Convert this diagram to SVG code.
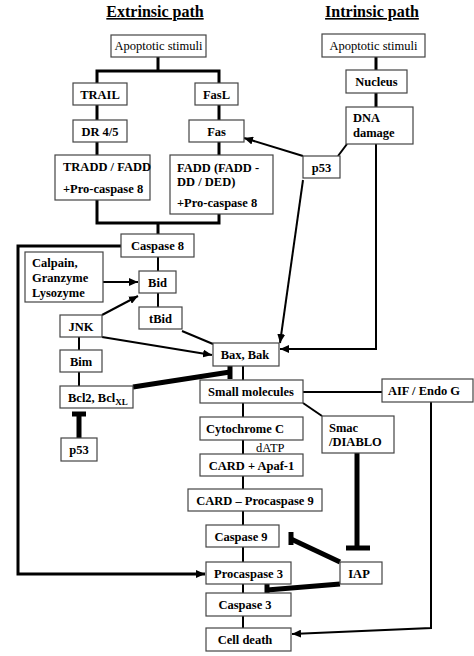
<svg xmlns="http://www.w3.org/2000/svg" width="474" height="656" viewBox="0 0 474 656">
<style>
.b{fill:#fff;stroke:#444;stroke-width:1.2}
.t{font-family:"Liberation Serif","Times New Roman",serif;font-size:12.5px;font-weight:bold;fill:#000}
.r{font-weight:normal}
.c{text-anchor:middle}
.h{font-family:"Liberation Serif","Times New Roman",serif;font-size:16px;font-weight:bold;text-anchor:middle;text-decoration:underline}
.l{fill:none;stroke:#000;stroke-width:2}
.k{stroke-width:3}
.inh{fill:none;stroke:#000;stroke-width:5}
</style>
<defs>
<marker id="a" markerUnits="userSpaceOnUse" markerWidth="9" markerHeight="8" refX="9" refY="4" orient="auto">
<path d="M0,0 L9,4 L0,8 z" fill="#000"/>
</marker>
</defs>
<rect width="474" height="656" fill="#fff"/>
<text class="h" x="155" y="17">Extrinsic path</text>
<text class="h" x="372" y="17">Intrinsic path</text>

<g id="connectors">
<polyline class="l k" points="158,57 158,71"/>
<polyline class="l k" points="97,83 97,71 219,71 219,83"/>
<line class="l k" x1="97" y1="105" x2="97" y2="120"/>
<line class="l k" x1="219" y1="105" x2="219" y2="120"/>
<line class="l k" x1="97" y1="142" x2="97" y2="155"/>
<line class="l k" x1="219" y1="142" x2="219" y2="155"/>
<polyline class="l k" points="97,200 97,223 219,223 219,214"/>
<line class="l k" x1="158" y1="223" x2="158" y2="234"/>
<polyline class="l k" points="121,246 18,246 18,574 205,574" marker-end="url(#a)"/>
<line class="l" x1="158" y1="257" x2="158" y2="271"/>
<line class="l" x1="158" y1="293" x2="158" y2="307"/>
<line class="l" x1="103" y1="282" x2="138" y2="282" marker-end="url(#a)"/>
<line class="l" x1="102" y1="315" x2="138" y2="296" marker-end="url(#a)"/>
<line class="l" x1="102" y1="337" x2="212" y2="355" marker-end="url(#a)"/>
<line class="l" x1="182" y1="331" x2="213" y2="344"/>
<line class="l" x1="79" y1="337" x2="79" y2="350"/>
<line class="l" x1="79" y1="372" x2="79" y2="386"/>
<line class="inh" x1="133" y1="387" x2="230" y2="372"/>
<line class="inh" x1="230" y1="366" x2="230" y2="379"/>
<line class="inh" x1="79" y1="438" x2="79" y2="414"/>
<line class="inh" x1="72" y1="414" x2="86" y2="414"/>
<line class="l" x1="303" y1="180" x2="280" y2="343" marker-end="url(#a)"/>
<line class="l" x1="303" y1="156" x2="244" y2="138" marker-end="url(#a)"/>
<line class="l" x1="347" y1="144" x2="338" y2="156"/>
<line class="l k" x1="376" y1="57" x2="376" y2="70"/>
<line class="l k" x1="376" y1="93" x2="376" y2="107"/>
<polyline class="l" points="376,144 376,349 280,349" marker-end="url(#a)"/>
<line class="l" x1="243" y1="366" x2="243" y2="380"/>
<line class="l" x1="303" y1="392" x2="382" y2="392"/>
<line class="l" x1="303" y1="403" x2="322" y2="416"/>
<line class="l" x1="243" y1="403" x2="243" y2="417"/>
<line class="l" x1="243" y1="440" x2="243" y2="454"/>
<line class="l" x1="243" y1="476" x2="243" y2="489"/>
<line class="l" x1="243" y1="511" x2="243" y2="525"/>
<line class="l" x1="243" y1="547" x2="243" y2="562"/>
<line class="l" x1="243" y1="584" x2="243" y2="593"/>
<line class="l" x1="243" y1="616" x2="243" y2="628"/>
<polyline class="l" points="431,402 431,628 292,634" marker-end="url(#a)"/>
<line class="inh" x1="357" y1="453" x2="357" y2="548"/>
<line class="inh" x1="346" y1="548" x2="370" y2="548"/>
<line class="inh" x1="340" y1="562" x2="291" y2="539"/>
<line class="inh" x1="291" y1="532" x2="291" y2="545"/>
<line class="inh" x1="340" y1="584" x2="267" y2="590"/>
<line class="inh" x1="267" y1="584" x2="267" y2="596"/>
</g>

<g id="stimL"><rect class="b" x="111" y="35" width="95" height="22"/><text class="t r c" x="158.5" y="50">Apoptotic stimuli</text></g>
<g id="trail"><rect class="b" x="73" y="83" width="54" height="22"/><text class="t c" x="100" y="99">TRAIL</text></g>
<g id="fasl"><rect class="b" x="195" y="83" width="43" height="22"/><text class="t c" x="216.5" y="99">FasL</text></g>
<g id="dr45"><rect class="b" x="73" y="120" width="54" height="22"/><text class="t c" x="100" y="136">DR 4/5</text></g>
<g id="fas"><rect class="b" x="189" y="120" width="55" height="22"/><text class="t c" x="216.5" y="136">Fas</text></g>
<g id="tradd"><rect class="b" x="55" y="155" width="95" height="45"/><text class="t" x="63" y="171">TRADD / FADD</text><text class="t" x="63" y="193">+Pro-caspase 8</text></g>
<g id="fadd"><rect class="b" x="170" y="155" width="103" height="59"/><text class="t" x="177" y="172">FADD (FADD -</text><text class="t" x="177" y="186">DD / DED)</text><text class="t" x="177" y="207">+Pro-caspase 8</text></g>
<g id="caspase8"><rect class="b" x="121" y="234" width="73" height="23"/><text class="t c" x="157.5" y="250">Caspase 8</text></g>
<g id="calpain"><rect class="b" x="25" y="252" width="78" height="50"/><text class="t" x="32" y="267">Calpain,</text><text class="t" x="32" y="282">Granzyme</text><text class="t" x="32" y="297">Lysozyme</text></g>
<g id="bid"><rect class="b" x="139" y="271" width="37" height="22"/><text class="t c" x="157.5" y="287">Bid</text></g>
<g id="tbid"><rect class="b" x="139" y="307" width="43" height="22"/><text class="t c" x="160.5" y="323">tBid</text></g>
<g id="jnk"><rect class="b" x="60" y="315" width="42" height="22"/><text class="t c" x="81" y="331">JNK</text></g>
<g id="bim"><rect class="b" x="60" y="350" width="42" height="22"/><text class="t c" x="81" y="366">Bim</text></g>
<g id="bcl2"><rect class="b" x="60" y="386" width="73" height="22"/><text class="t" x="68" y="402">Bcl2, Bcl<tspan font-size="9" dy="3">XL</tspan></text></g>
<g id="p53low"><rect class="b" x="61" y="438" width="36" height="23"/><text class="t c" x="79" y="454">p53</text></g>
<g id="stimR"><rect class="b" x="322" y="34" width="103" height="23"/><text class="t r c" x="373.5" y="50">Apoptotic stimuli</text></g>
<g id="nucleus"><rect class="b" x="346" y="70" width="61" height="23"/><text class="t c" x="376.5" y="86">Nucleus</text></g>
<g id="dna"><rect class="b" x="346" y="107" width="67" height="37"/><text class="t" x="353" y="122">DNA</text><text class="t" x="353" y="137">damage</text></g>
<g id="p53up"><rect class="b" x="303" y="156" width="37" height="22"/><text class="t c" x="321.5" y="172">p53</text></g>
<g id="baxbak"><rect class="b" x="213" y="343" width="66" height="23"/><text class="t c" x="245" y="359">Bax, Bak</text></g>
<g id="small"><rect class="b" x="200" y="380" width="103" height="23"/><text class="t c" x="251" y="396">Small molecules</text></g>
<g id="aif"><rect class="b" x="382" y="379" width="91" height="23"/><text class="t c" x="424" y="395">AIF / Endo G</text></g>
<g id="smac"><rect class="b" x="322" y="416" width="72" height="37"/><text class="t" x="329" y="432">Smac</text><text class="t" x="329" y="446">/DIABLO</text></g>
<g id="cytc"><rect class="b" x="200" y="417" width="103" height="23"/><text class="t c" x="245" y="433">Cytochrome C</text></g>
<text class="t r" x="256" y="452" font-size="14">dATP</text>
<g id="card"><rect class="b" x="200" y="454" width="103" height="22"/><text class="t c" x="251.5" y="470">CARD + Apaf-1</text></g>
<g id="cardp9"><rect class="b" x="188" y="489" width="134" height="22"/><text class="t c" x="255" y="505">CARD – Procaspase 9</text></g>
<g id="caspase9"><rect class="b" x="206" y="525" width="73" height="22"/><text class="t c" x="241" y="541">Caspase 9</text></g>
<g id="procasp3"><rect class="b" x="206" y="562" width="85" height="22"/><text class="t c" x="248.5" y="578">Procaspase 3</text></g>
<g id="caspase3"><rect class="b" x="206" y="593" width="85" height="23"/><text class="t c" x="245" y="609">Caspase 3</text></g>
<g id="celldeath"><rect class="b" x="206" y="628" width="85" height="23"/><text class="t c" x="245" y="644">Cell death</text></g>
<g id="iap"><rect class="b" x="340" y="562" width="42" height="22"/><text class="t c" x="359" y="578">IAP</text></g>
</svg>
